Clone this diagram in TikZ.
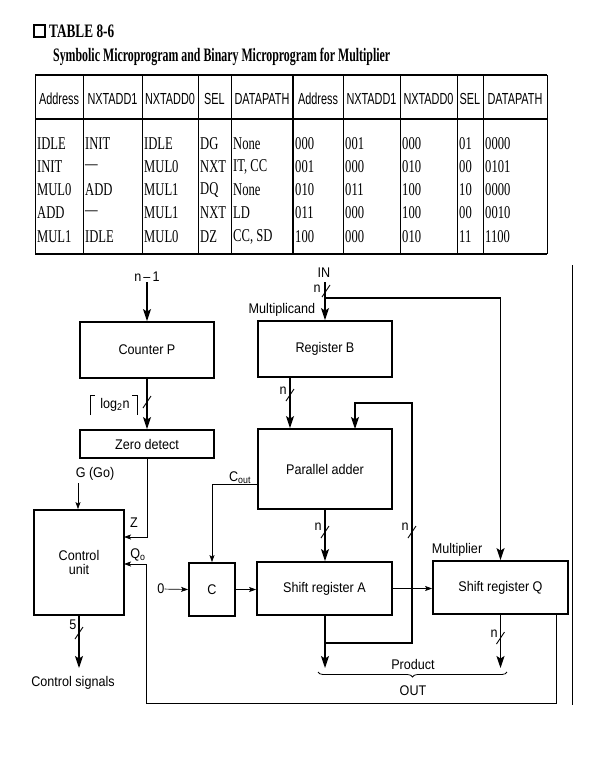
\documentclass[tikz,border=0pt]{standalone}
\usepackage{fontspec}
\usepackage{graphicx}
\setmainfont{Liberation Sans}
\newfontfamily\tser{Liberation Serif}
\usetikzlibrary{arrows.meta,decorations.pathreplacing}
\newcommand{\nx}[1]{\scalebox{0.9}[1]{#1}}
\newcommand{\hx}[1]{\scalebox{0.68}[1]{#1}}
\newcommand{\cx}[1]{\scalebox{0.7}[1]{#1}}
\begin{document}
\begin{tikzpicture}[x=1pt,y=-1pt,
  box/.style={draw, line width=1.8pt, inner sep=0pt, font=\fontsize{14}{16}\selectfont},
  lbl/.style={inner sep=0pt, font=\fontsize{14}{16}\selectfont},
  data/.style={line width=1.3pt, -{Stealth[length=12pt,width=8pt,inset=2.5pt]}},
  ctrl/.style={line width=0.7pt, -{Stealth[length=7pt,width=5pt,inset=1.5pt]}},
  thinline/.style={line width=0.7pt},
  hdr/.style={inner sep=0pt, font=\fontsize{16}{17}\selectfont},
  cell/.style={inner sep=0pt, anchor=west, font=\tser\fontsize{18}{18}\selectfont},
  busmark/.pic={\draw[line width=0.9pt] (-4,6) -- (4,-6);}
]
\useasboundingbox (0,0) rectangle (599,757);
% ---------- title ----------
\draw[line width=1.3pt] (34,25) rectangle (45,37);
\node[inner sep=0pt, anchor=west, font=\tser\bfseries\fontsize{19}{20}\selectfont] (ttl) at (49,31) {\resizebox{65pt}{\height}{TABLE 8-6}};
\node[inner sep=0pt, anchor=west, font=\tser\bfseries\fontsize{19}{20}\selectfont] (sub) at (53,57) {\resizebox{337pt}{\height}{Symbolic Microprogram and Binary Microprogram for Multiplier}};
% ---------- table ----------
\draw[line width=2pt] (35,75) -- (547,75);
\draw[line width=2pt] (35,119) -- (547,119);
\draw[line width=1.6pt] (35,254) -- (547,254);
\foreach \x in {35,83,142,198,231,343,400,457,483,547}
  \draw[line width=0.8pt] (\x,75) -- (\x,254);
\draw[line width=2pt] (293,75) -- (293,254);
\foreach \t/\x [count=\i] in {Address/59,NXTADD1/112.5,NXTADD0/170,SEL/214.5,DATAPATH/262,Address/318,NXTADD1/371.5,NXTADD0/428.5,SEL/470,DATAPATH/515}
  \node[hdr] (h\i) at (\x,99) {\hx{\t}};
\foreach \x/\t [count=\i] in {37/IDLE,85/INIT,144/IDLE,200/DG,233/None,295/000,345/001,402/000,459/01,485/0000}
  \node[cell] (ra\i) at (\x,144) {\cx{\t}};
\foreach \x/\t [count=\i] in {37/INIT,85/\textemdash,144/MUL0,200/NXT,233/{IT, CC},295/001,345/000,402/010,459/00,485/0101}
  \node[cell] (rb\i) at (\x,167) {\cx{\t}};
\foreach \x/\t [count=\i] in {37/MUL0,85/ADD,144/MUL1,200/DQ,233/None,295/010,345/011,402/100,459/10,485/0000}
  \node[cell] (rc\i) at (\x,190) {\cx{\t}};
\foreach \x/\t [count=\i] in {37/ADD,85/\textemdash,144/MUL1,200/NXT,233/LD,295/011,345/000,402/100,459/00,485/0010}
  \node[cell] (rd\i) at (\x,213) {\cx{\t}};
\foreach \x/\t [count=\i] in {37/MUL1,85/IDLE,144/MUL0,200/DZ,233/{CC, SD},295/100,345/000,402/010,459/11,485/1100}
  \node[cell] (re\i) at (\x,237) {\cx{\t}};
% ---------- boxes ----------
\node[box, minimum width=134pt, minimum height=56pt] (cp) at (147,350) {\nx{Counter P}};
\node[box, minimum width=134pt, minimum height=28pt] (zd) at (147,444) {\nx{Zero detect}};
\node[box, minimum width=90pt, minimum height=105pt, align=center] (cu) at (79,562.5) {\nx{Control}\\[-2pt]\nx{unit}};
\node[box, minimum width=134pt, minimum height=56pt] (rb) at (325,349) {\nx{Register B}};
\node[box, minimum width=134pt, minimum height=80pt] (pa) at (325,469) {\nx{Parallel adder}};
\node[box, minimum width=46pt, minimum height=53pt] (cc) at (212,589.5) {\nx{C}};
\node[box, minimum width=135pt, minimum height=53pt] (sa) at (324.5,588.5) {\nx{Shift register A}};
\node[box, minimum width=135pt, minimum height=53pt] (sq) at (500.5,587.5) {\nx{Shift register Q}};
% ---------- labels ----------
\node[lbl] (nm1) at (147,277) {\nx{n\,--\,1}};
\node[lbl] (ggo) at (95,474) {\nx{G (Go)}};
\node[lbl] (zl) at (134,523) {\nx{Z}};
\node[lbl] (ql) at (138,555) {\nx{Q\textsubscript{o}}};
\node[lbl] (csl) at (73,683) {\nx{Control signals}};
\node[lbl] (five) at (73,625) {\nx{5}};
\node[lbl] (zero) at (161,589) {\nx{0}};
\node[lbl] (coutl) at (240,478) {\nx{C\textsubscript{out}}};
\node[lbl] (inl) at (324,273) {\nx{IN}};
\node[lbl] (nin) at (317,289) {\nx{n}};
\node[lbl] (mcand) at (282,310) {\nx{Multiplicand}};
\node[lbl] (nb) at (283,391) {\nx{n}};
\node[lbl] (na) at (318,527) {\nx{n}};
\node[lbl] (nf) at (405,527) {\nx{n}};
\node[lbl] (nq) at (494,634) {\nx{n}};
\node[lbl] (mplier) at (457,550) {\nx{Multiplier}};
\node[lbl] (prod) at (413,664) {\nx{Product}};
\node[lbl] (outl) at (413,691) {\nx{OUT}};
% log2 n with ceiling brackets
\node[lbl] (logn) at (115,405) {\nx{log\textsubscript{2}n}};
\draw[line width=0.8pt] (90,415) -- (90,395) -- (95,395);
\draw[line width=0.8pt] (132,395) -- (137,395) -- (137,415);
% ---------- coordinates ----------
\coordinate (gtop) at (78,483);
\coordinate (zin) at (124,537);
\coordinate (q0in) at (124,564);
\coordinate (qout) at (556,614);
\coordinate (qcorner) at (146,703);
\coordinate (csend) at (79,668);
\coordinate (cout) at (258,484);
\coordinate (intop) at (325,282);
\coordinate (fbj) at (325,298);
\coordinate (rbo) at (290,377);
\coordinate (fbA) at (325,643);
\coordinate (fbtop) at (412,403);
\coordinate (fbin) at (355,429);
\coordinate (outA) at (325,668);
\coordinate (outQ) at (500.5,668);
\coordinate (rtop) at (572,265);
\coordinate (rbot) at (572,705);
% ---------- connectors ----------
\draw[data] (nm1) -- (cp.north);
\draw[data] (cp.south) -- (zd.north);
\pic at (147,402) {busmark};
\draw[ctrl] (gtop) -- (gtop |- cu.north);
\draw[ctrl] (zd.south) |- (zin);
\draw[ctrl] (qout) |- (qcorner) |- (q0in);
\draw[data] (cu.south) -- (csend);
\pic at (79,633) {busmark};
\draw[ctrl] (zero) -- (cc.west);
\draw[ctrl] (cc.east) -- (cc.east -| sa.west);
\draw[ctrl] (sa.east) -- (sa.east -| sq.west);
\draw[ctrl] (cout) -| (cc.north);
\draw[data] (intop) -- (rb.north);
\pic at (326,291) {busmark};
\draw[data] (fbj) -| (sq.north);
\draw[data] (rbo) -- (rbo |- pa.north);
\pic at (290,395) {busmark};
\draw[data] (fbA) -| (fbtop) -| (fbin);
\pic at (412,532) {busmark};
\draw[data] (pa.south) -- (pa.south |- sa.north);
\pic at (325,532) {busmark};
\draw[data] (pa.south |- sa.south) -- (outA);
\draw[data] (sq.south) -- (outQ);
\pic at (500.5,638) {busmark};
\draw[line width=0.8pt, decorate, decoration={brace, mirror, amplitude=5pt}] (318,672) -- (507,672);
\draw[thinline] (rtop) -- (rbot);
\end{tikzpicture}
\end{document}
